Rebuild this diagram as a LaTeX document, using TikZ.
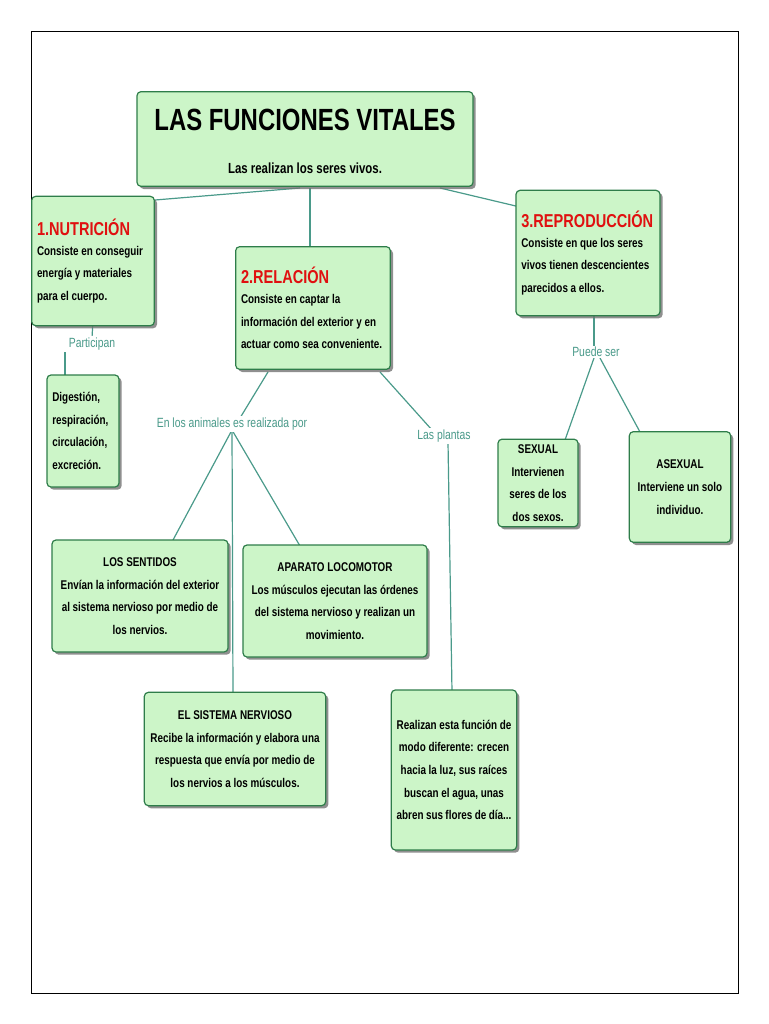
\documentclass[tikz,border=0pt]{standalone}
\usepackage{fontspec}
\setmainfont{Liberation Sans}[FakeStretch=0.78]
\usetikzlibrary{shadows}
\definecolor{boxfill}{HTML}{CCF5C8}
\definecolor{boxdraw}{HTML}{2E7D4A}
\definecolor{lbl}{HTML}{4A9A8A}
\definecolor{hred}{HTML}{E01010}
\tikzset{
 box/.style={draw=boxdraw,line width=0.9pt,fill=boxfill,rounded corners=3pt,
   drop shadow={shadow xshift=2pt,shadow yshift=-2pt,fill=black!55,opacity=0.8},
   font=\bfseries\fontsize{9.5}{17}\selectfont,inner sep=4pt},
 lab/.style={text=lbl,font=\fontsize{10}{12}\selectfont,fill=white,inner sep=1pt},
 con/.style={draw=lbl,line width=0.9pt}
}
\begin{document}
\begin{tikzpicture}[x=0.75pt,y=-0.75pt]
\useasboundingbox (0,0) rectangle (768,1024);
\draw[line width=0.6pt] (31,31) rectangle (738,993);
\coordinate (t1) at (300,188);
\coordinate (t2) at (310,188);
\coordinate (t3) at (440,188);
\coordinate (r1) at (268,372);
\coordinate (r2) at (380,372);
\coordinate (dtop) at (65,352);
\coordinate (dend) at (65,375);
% connectors first (under boxes)
\draw[con] (t1) -- (155,200);
\draw[con] (t2) -- (310,248);
\draw[con] (t3) -- (520,207);
\draw[con] (93,320) -- (92,338);
\draw[con] (dtop) -- (dend);
\draw[con] (r1) -- (240,418);
\draw[con] (232,430) -- (173,540);
\draw[con] (232,430) -- (300,546);
\draw[con] (232,430) -- (233,694);
\draw[con] (r2) -- (432,430);
\draw[con] (448,442) -- (452,692);
\draw[con] (594,316) -- (594,346);
\draw[con] (594,358) -- (565,440);
\draw[con] (600,358) -- (640,432);
% boxes
\node[box,minimum width=252pt,minimum height=71pt] (title) at (305,139) {};
\node[font=\bfseries\fontsize{23}{26}\selectfont] (tt) at (305,120) {LAS FUNCIONES VITALES};
\node[font=\bfseries\fontsize{11}{13}\selectfont] (ts) at (305,168) {Las realizan los seres vivos.};
\node[box,minimum width=90pt,minimum height=97pt,text width=84pt,align=flush left] (nut) at (93,261)
 {{\fontsize{14}{18}\selectfont\textcolor{hred}{1.NUTRICIÓN}}\\[-2pt]Consiste en conseguir energía y materiales para el cuerpo.};
\node[box,minimum width=115pt,minimum height=92pt,text width=108pt,align=flush left] (rel) at (313,308)
 {{\fontsize{14}{18}\selectfont\textcolor{hred}{2.RELACIÓN}}\\[-2pt]Consiste en captar la información del exterior y en actuar como sea conveniente.};
\node[box,minimum width=107pt,minimum height=94pt,text width=100pt,align=flush left] (rep) at (588,253)
 {{\fontsize{14}{18}\selectfont\textcolor{hred}{3.REPRODUCCIÓN}}\\[-2pt]Consiste en que los seres vivos tienen descencientes parecidos a ellos.};
\node[box,minimum width=50pt,minimum height=84pt,text width=46pt,align=flush left] (dig) at (83,431)
 {Digestión, respiración, circulación, excreción.};
\node[box,minimum width=128pt,minimum height=84pt,text width=124pt,align=flush center] (sen) at (140,596)
 {LOS SENTIDOS\\Envían la información del exterior al sistema nervioso por medio de los nervios.};
\node[box,minimum width=135pt,minimum height=84pt,text width=130pt,align=flush center] (loc) at (335,601)
 {APARATO LOCOMOTOR\\Los músculos ejecutan las órdenes del sistema nervioso y realizan un movimiento.};
\node[box,minimum width=132pt,minimum height=85pt,text width=128pt,align=flush center] (ner) at (235,749)
 {EL SISTEMA NERVIOSO\\Recibe la información y elabora una respuesta que envía por medio de los nervios a los músculos.};
\node[box,minimum width=92pt,minimum height=120pt,text width=86pt,align=flush center] (pla) at (454,770)
 {Realizan esta función de modo diferente: crecen hacia la luz, sus raíces buscan el agua, unas abren sus flores de día...};
\node[box,minimum width=50pt,minimum height=65pt,text width=52pt,align=flush center] (sex) at (538,483)
 {SEXUAL\\Intervienen seres de los dos sexos.};
\node[box,minimum width=72pt,minimum height=83pt,text width=68pt,align=flush center] (asx) at (680,487)
 {ASEXUAL\\Interviene un solo individuo.};
% labels
\node[lab] (lpar) at (92,344) {Participan};
\node[lab] (lani) at (232,424) {En los animales es realizada por};
\node[lab] (lpl) at (444,436) {Las plantas};
\node[lab] (lpue) at (596,352) {Puede ser};
\end{tikzpicture}
\end{document}
